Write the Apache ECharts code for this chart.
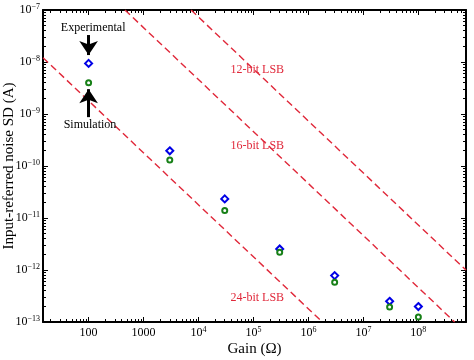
<!DOCTYPE html>
<html>
<head>
<meta charset="utf-8">
<script src="https://cdn.jsdelivr.net/npm/echarts@6/dist/echarts.min.js"></script>
<style>html,body{margin:0;padding:0;background:#fff}#c{width:474px;height:360px}</style>
</head>
<body>
<div id="c"></div>
<script>
// ---- data ----
const gains = [100, 3000, 3e4, 3e5, 3e6, 3e7, 1e8];
const experimental = [9.4e-9, 1.96e-10, 2.33e-11, 2.54e-12, 7.8e-13, 2.5e-13, 1.98e-13];
const simulation = [3.99e-9, 1.30e-10, 1.39e-11, 2.2e-12, 5.8e-13, 1.95e-13, 1.25e-13];
const lsb12 = [[7320, 1e-7], [7.36e8, 9.95e-13]];
const lsb16 = [[458, 1e-7], [4.58e8, 1e-13]];
const lsb24 = [[14.8, 1.21e-8], [1.79e6, 1e-13]];
const xMajorTicks = [100, 1e3, 1e4, 1e5, 1e6, 1e7, 1e8];
const yMajorTicks = [1e-13, 1e-12, 1e-11, 1e-10, 1e-9, 1e-8, 1e-7];
const xRange = [14.8, 7.36e8];
const yRange = [1e-13, 1e-7];

function minorTicks(lo, hi, k0, k1) {
  const out = [];
  for (let k = k0; k <= k1; k++) for (let m = 2; m <= 9; m++) {
    const v = m * Math.pow(10, k);
    if (v > lo && v < hi) out.push(v);
  }
  return out;
}
const xMinorTicks = minorTicks(xRange[0], xRange[1], 1, 8);
const yMinorTicks = minorTicks(yRange[0], yRange[1], -13, -8);

const FONT = 'Liberation Serif';
const RED = '#e0283a';
const rich = {
  b: {fontSize: 12, fontFamily: FONT, color: '#000', lineHeight: 14},
  s: {fontSize: 8, fontFamily: FONT, color: '#000', lineHeight: 14, verticalAlign: 'top'}
};
function xFmt(v) {
  const e = Math.round(Math.log10(v));
  if (e === 2) return '{b|100}';
  if (e === 3) return '{b|1000}';
  return '{b|10}{s|' + e + '}';
}
function yFmt(v) {
  const e = Math.round(Math.log10(v));
  return '{b|10}{s|\u2212' + (-e) + '}';
}

function xAxisDef(pos, major, labels) {
  return {
    type: 'log', position: pos, min: xRange[0], max: xRange[1],
    axisLine: {show: major, onZero: false, lineStyle: {color: '#000', width: 2}},
    axisTick: {show: true, inside: true, length: major ? 5 : 3,
      lineStyle: {color: '#000', width: 1},
      customValues: major ? xMajorTicks : xMinorTicks},
    axisLabel: labels ? {show: true, margin: 4, customValues: xMajorTicks, formatter: xFmt, rich: rich} : {show: false},
    splitLine: {show: false}, minorTick: {show: false},
    name: labels ? 'Gain (\u03A9)' : '', nameLocation: 'middle', nameGap: 20, nameMoveOverlap: false,
    nameTextStyle: {fontFamily: FONT, fontSize: 15, color: '#000'}
  };
}
function yAxisDef(pos, major, labels) {
  return {
    type: 'log', position: pos, min: yRange[0], max: yRange[1],
    axisLine: {show: major, onZero: false, lineStyle: {color: '#000', width: 2}},
    axisTick: {show: true, inside: true, length: major ? 5 : 3,
      lineStyle: {color: '#000', width: 1},
      customValues: major ? yMajorTicks : yMinorTicks},
    axisLabel: labels ? {show: true, margin: 3, customValues: yMajorTicks, formatter: yFmt, rich: rich} : {show: false},
    splitLine: {show: false}, minorTick: {show: false},
    name: labels ? 'Input-referred noise SD (A)' : '', nameLocation: 'middle', nameGap: 26, nameMoveOverlap: false,
    nameTextStyle: {fontFamily: FONT, fontSize: 15, color: '#000'}
  };
}

function lsbSeries(data, name, labelCoord) {
  return {
    type: 'line', name: name, data: data, symbol: 'none', silent: true,
    lineStyle: {color: RED, width: 1.4, type: [7, 4]},
    markPoint: {
      symbol: 'circle', symbolSize: 0, silent: true,
      label: {show: true, position: 'inside', formatter: name, fontFamily: FONT, fontSize: 12, color: RED},
      data: [{coord: labelCoord}]
    },
    z: 2
  };
}

const chart = echarts.init(document.getElementById('c'), null, {renderer: 'canvas'});
chart.setOption({
  animation: false,
  backgroundColor: '#fff',
  grid: {left: 43, right: 8, top: 10, bottom: 38, containLabel: false, outerBoundsMode: 'none'},
  xAxis: [
    xAxisDef('bottom', true, true),
    xAxisDef('bottom', false, false),
    xAxisDef('top', true, false),
    xAxisDef('top', false, false)
  ],
  yAxis: [
    yAxisDef('left', true, true),
    yAxisDef('left', false, false),
    yAxisDef('right', true, false),
    yAxisDef('right', false, false)
  ],
  series: [
    lsbSeries(lsb12, '12-bit LSB', [1.17e5, 7.0e-9]),
    lsbSeries(lsb16, '16-bit LSB', [1.17e5, 2.44e-10]),
    lsbSeries(lsb24, '24-bit LSB', [1.17e5, 2.95e-13]),
    {
      type: 'scatter', name: 'Experimental',
      data: gains.map((g, i) => [g, experimental[i]]),
      symbol: 'diamond', symbolSize: 7,
      itemStyle: {color: '#fff', borderColor: '#0000e6', borderWidth: 2, opacity: 1},
      markLine: {
        silent: true, symbol: ['none', 'arrow'], symbolSize: 14,
        lineStyle: {color: '#000', width: 3, type: 'solid'},
        label: {show: false},
        data: [
          [{coord: [100, 3.3e-8]}, {coord: [100, 1.36e-8]}]
        ]
      },
      markPoint: {
        symbol: 'circle', symbolSize: 0, silent: true,
        label: {show: true, position: 'inside', formatter: 'Experimental', fontFamily: FONT, fontSize: 12, color: '#000'},
        data: [{coord: [121, 4.5e-8]}]
      },
      z: 5
    },
    {
      type: 'scatter', name: 'Simulation',
      data: gains.map((g, i) => [g, simulation[i]]),
      symbol: 'circle', symbolSize: 5,
      itemStyle: {color: '#fff', borderColor: '#178017', borderWidth: 2, opacity: 1},
      markLine: {
        silent: true, symbol: ['none', 'arrow'], symbolSize: 14,
        lineStyle: {color: '#000', width: 3, type: 'solid'},
        label: {show: false},
        data: [
          [{coord: [100, 8.7e-10]}, {coord: [100, 3.0e-9]}]
        ]
      },
      markPoint: {
        symbol: 'circle', symbolSize: 0, silent: true,
        label: {show: true, position: 'inside', formatter: 'Simulation', fontFamily: FONT, fontSize: 12, color: '#000'},
        data: [{coord: [106, 6.1e-10]}]
      },
      z: 5
    }
  ]
});
</script>
</body>
</html>
